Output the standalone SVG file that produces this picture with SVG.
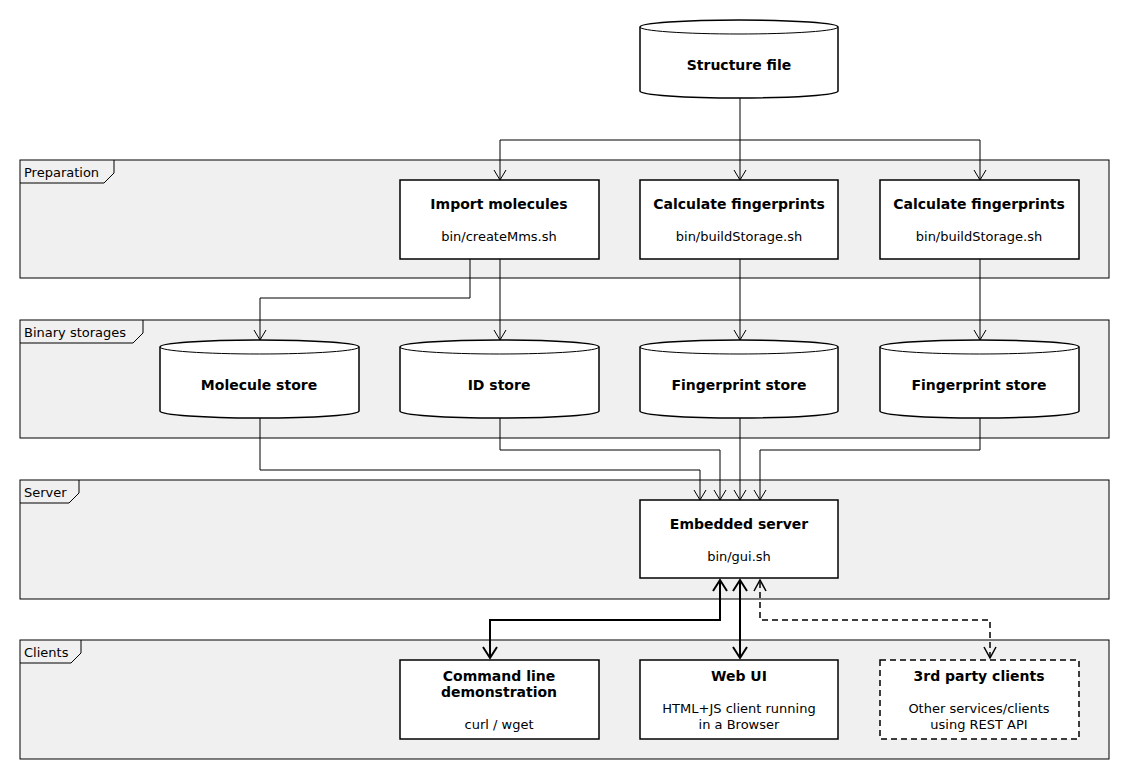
<svg xmlns="http://www.w3.org/2000/svg" width="1130" height="780" viewBox="0 0 1130 780">
<style>
text{font-family:"DejaVu Sans",sans-serif;fill:#000}
.t{font-size:14px;font-weight:bold;text-anchor:middle}
.s{font-size:13px;text-anchor:middle}
.fl{font-size:13px}
.frame{fill:#f0f0f0;stroke:#000;stroke-width:1}
.box{fill:#fff;stroke:#000;stroke-width:1.5}
.c{fill:none;stroke:#000;stroke-width:1}
.th{fill:none;stroke:#000;stroke-width:2}
.da{fill:none;stroke:#000;stroke-width:1.5;stroke-dasharray:6 4}
.ah{fill:none;stroke:#000;stroke-width:1}
</style>
<rect width="1130" height="780" fill="#fff"/>
<g id="frames">
<rect class="frame" x="20" y="160" width="1089" height="118"/>
<path class="c" d="M20 183H104L114 173V160"/><text class="fl" x="24" y="177">Preparation</text>
<rect class="frame" x="20" y="320" width="1089" height="118"/>
<path class="c" d="M20 343H133L143 333V320"/><text class="fl" x="24" y="337">Binary storages</text>
<rect class="frame" x="20" y="480" width="1089" height="119"/>
<path class="c" d="M20 503H69L79 493V480"/><text class="fl" x="24" y="497">Server</text>
<rect class="frame" x="20" y="640" width="1089" height="119"/>
<path class="c" d="M20 663H71L81 653V640"/><text class="fl" x="24" y="657">Clients</text>
</g>
<g id="structure">
<path class="box" d="M640 27A99 7 0 0 1 838 27V91A99 7 0 0 1 640 91Z"/><path class="c" d="M640 27A99 7 0 0 0 838 27"/>
<text class="t" x="739" y="70">Structure file</text></g>
<g id="import"><rect class="box" x="400" y="180" width="199" height="79"/><text class="t" x="499" y="209">Import molecules</text><text class="s" x="499" y="241">bin/createMms.sh</text></g>
<g id="calc1"><rect class="box" x="640" y="180" width="198" height="79"/><text class="t" x="739" y="209">Calculate fingerprints</text><text class="s" x="739" y="241">bin/buildStorage.sh</text></g>
<g id="calc2"><rect class="box" x="880" y="180" width="199" height="79"/><text class="t" x="979" y="209">Calculate fingerprints</text><text class="s" x="979" y="241">bin/buildStorage.sh</text></g>
<g id="molstore"><path class="box" d="M160 347A99.5 7 0 0 1 359 347V411A99.5 7 0 0 1 160 411Z"/><path class="c" d="M160 347A99.5 7 0 0 0 359 347"/><text class="t" x="259" y="390">Molecule store</text></g>
<g id="idstore"><path class="box" d="M400 347A99.5 7 0 0 1 599 347V411A99.5 7 0 0 1 400 411Z"/><path class="c" d="M400 347A99.5 7 0 0 0 599 347"/><text class="t" x="499" y="390">ID store</text></g>
<g id="fpstore1"><path class="box" d="M640 347A99 7 0 0 1 838 347V411A99 7 0 0 1 640 411Z"/><path class="c" d="M640 347A99 7 0 0 0 838 347"/><text class="t" x="739" y="390">Fingerprint store</text></g>
<g id="fpstore2"><path class="box" d="M880 347A99.5 7 0 0 1 1079 347V411A99.5 7 0 0 1 880 411Z"/><path class="c" d="M880 347A99.5 7 0 0 0 1079 347"/><text class="t" x="979" y="390">Fingerprint store</text></g>
<g id="server"><rect class="box" x="640" y="500" width="198" height="78"/><text class="t" x="739" y="529">Embedded server</text><text class="s" x="739" y="561">bin/gui.sh</text></g>
<g id="cli"><rect class="box" x="400" y="660" width="199" height="79"/><text class="t" x="499" y="681">Command line</text><text class="t" x="499" y="697">demonstration</text><text class="s" x="499" y="729">curl / wget</text></g>
<g id="webui"><rect class="box" x="640" y="660" width="198" height="79"/><text class="t" x="739" y="681">Web UI</text><text class="s" x="739" y="713">HTML+JS client running</text><text class="s" x="739" y="729">in a Browser</text></g>
<g id="thirdparty"><rect class="box" x="880" y="660" width="199" height="79" style="stroke-dasharray:6 4"/><text class="t" x="979" y="681">3rd party clients</text><text class="s" x="979" y="713">Other services/clients</text><text class="s" x="979" y="729">using REST API</text></g>
<g id="connectors">
<path class="c" d="M740 98V180M740 140H500V180M740 140H980V180"/>
<path class="ah" d="M734 170L740 180L746 170M494 170L500 180L506 170M974 170L980 180L986 170"/>
<path class="c" d="M470 259V298H260V340M500 259V340M740 259V340M980 259V340"/>
<path class="ah" d="M254 330L260 340L266 330M494 330L500 340L506 330M734 330L740 340L746 330M974 330L980 340L986 330"/>
<path class="c" d="M260 418V470H700V500M500 418V450H720V500M740 418V500M980 418V450H760V500"/>
<path class="ah" d="M694 490L700 500L706 490M714 490L720 500L726 490M734 490L740 500L746 490M754 490L760 500L766 490"/>
<path class="th" d="M720 580V620H490V658M740 580V658"/>
<path class="th" d="M713 591L720 580L727 591M483 647L490 658L497 647M733 591L740 580L747 591M733 647L740 658L747 647"/>
<path class="da" d="M760 582V620H990V658"/>
<path class="ah" style="stroke-width:1.5" d="M754 591L760 580L766 591M984 647L990 658L996 647"/>
</g>
</svg>
